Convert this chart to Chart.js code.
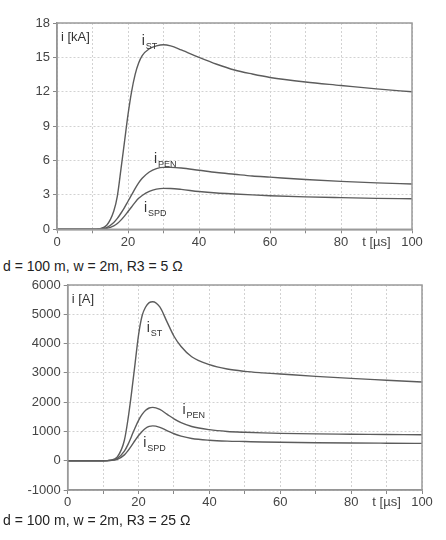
<!DOCTYPE html>
<html>
<head>
<meta charset="utf-8">
<script src="https://cdn.jsdelivr.net/npm/chart.js@4/dist/chart.umd.min.js"></script>
<style>
  body { margin: 0; background: #fff; width: 446px; height: 540px; position: relative; overflow: hidden; }
  .box { position: absolute; left: 0; width: 446px; }
  .cap { position: absolute; left: 3px; font: 14px "Liberation Sans", Arial, sans-serif; color: #222; line-height: 16px; }
</style>
</head>
<body>
<div class="box" style="top:0;height:256px"><canvas id="top"></canvas></div>
<div class="cap" style="top:258px">d = 100 m, w = 2m, R3 = 5 Ω</div>
<div class="box" style="top:270px;height:245px"><canvas id="bottom"></canvas></div>
<div class="cap" style="top:512px">d = 100 m, w = 2m, R3 = 25 Ω</div>
<script>
// time axis (µs) shared by both plots
const times = [0, 10, 12, 14, 16, 17, 18, 19, 20, 21, 22, 23, 24, 26, 28, 30, 32, 35, 40, 45, 50, 55, 60, 70, 80, 90, 100];

// R3 = 5 ohm, currents in kA
const st5  = [0, 0, 0.05, 0.35, 1.6, 2.9, 5.2, 7.6, 10.0, 12.0, 13.5, 14.5, 15.15, 15.75, 16.0, 16.1, 16.0, 15.65, 15.0, 14.4, 13.9, 13.55, 13.25, 12.85, 12.55, 12.25, 12.0];
const pen5 = [0, 0, 0.03, 0.15, 0.6, 0.95, 1.4, 1.9, 2.45, 3.0, 3.55, 4.05, 4.45, 5.0, 5.3, 5.4, 5.4, 5.35, 5.15, 4.95, 4.8, 4.65, 4.55, 4.35, 4.18, 4.05, 3.95];
const spd5 = [0, 0, 0.02, 0.08, 0.3, 0.5, 0.8, 1.15, 1.55, 1.95, 2.35, 2.7, 2.95, 3.3, 3.5, 3.57, 3.56, 3.48, 3.3, 3.17, 3.08, 3.0, 2.93, 2.83, 2.76, 2.7, 2.66];

// R3 = 25 ohm, currents in A
const st25  = [0, 0, 20, 130, 700, 1400, 2300, 3300, 4300, 4950, 5250, 5400, 5430, 5250, 4750, 4250, 3900, 3550, 3280, 3130, 3050, 3000, 2960, 2880, 2810, 2750, 2690];
const pen25 = [0, 0, 10, 80, 330, 550, 830, 1120, 1380, 1580, 1720, 1800, 1820, 1750, 1590, 1430, 1300, 1170, 1060, 1000, 970, 950, 935, 915, 905, 895, 885];
const spd25 = [0, 0, 8, 45, 200, 340, 510, 690, 860, 1000, 1110, 1170, 1190, 1140, 1030, 920, 840, 760, 700, 670, 655, 640, 630, 615, 605, 598, 592];

const yTicks5 = [0, 3, 6, 9, 12, 15, 18];
const yTicks25 = [-1000, 0, 1000, 2000, 3000, 4000, 5000, 6000];
const xLabel = 't [µs]';

const FONT = '"Liberation Sans", Arial, sans-serif';
const LINE = '#5c5c5c';

function pts(vals) {
  return times.map((t, i) => ({ x: t, y: vals[i] }));
}

function line(vals) {
  return {
    data: pts(vals),
    borderColor: LINE,
    borderWidth: 1.4,
    pointRadius: 0,
    cubicInterpolationMode: 'monotone',
    fill: false
  };
}

// frame around the plot area + curve / axis labels
const decor = {
  id: 'decor',
  afterDatasetsDraw(chart, args, opts) {
    const { ctx, chartArea: a, scales } = chart;
    ctx.save();
    ctx.strokeStyle = '#9a9a9a';
    ctx.lineWidth = 1.5;
    ctx.strokeRect(a.left, a.top, a.right - a.left, a.bottom - a.top);
    ctx.fillStyle = '#333';
    ctx.textBaseline = 'alphabetic';
    ctx.font = '13px ' + FONT;
    ctx.fillText(opts.unit, a.left + 4, a.top + 18);
    opts.names.forEach(n => {
      const px = scales.x.getPixelForValue(n.x);
      const py = scales.y.getPixelForValue(n.y);
      ctx.font = '14px ' + FONT;
      ctx.fillText('i', px, py);
      ctx.font = '9px ' + FONT;
      ctx.fillText(n.sub, px + 4, py + 4);
    });
    ctx.restore();
  }
};

function makeChart(id, series, yMin, yMax, yTicks, axisW, axisH, pad, unit, names) {
  return new Chart(document.getElementById(id), {
    type: 'line',
    data: { datasets: series.map(line) },
    plugins: [decor],
    options: {
      responsive: true,
      maintainAspectRatio: false,
      animation: false,
      layout: { padding: pad },
      plugins: {
        legend: { display: false },
        tooltip: { enabled: false },
        decor: { unit: unit, names: names }
      },
      scales: {
        x: {
          type: 'linear',
          min: 0, max: 100,
          afterFit: s => { s.height = axisH; },
          ticks: {
            stepSize: 10, autoSkip: false, maxRotation: 0, padding: 1,
            color: '#444', font: { family: FONT, size: 13 },
            callback: v => v === 90 ? xLabel : (v % 20 === 0 ? String(v) : '')
          },
          grid: { color: '#d2d2d2', tickColor: '#888', tickLength: 4 },
          border: { color: '#888', width: 1.5, dash: [2, 2] }
        },
        y: {
          min: yMin, max: yMax,
          afterFit: s => { s.width = axisW; },
          afterBuildTicks: s => { s.ticks = yTicks.map(v => ({ value: v })); },
          ticks: {
            padding: 3, autoSkip: false,
            color: '#444', font: { family: FONT, size: 13 },
            callback: v => String(v)
          },
          grid: { color: '#d2d2d2', tickColor: '#888', tickLength: 4 },
          border: { color: '#888', width: 1.5, dash: [2, 2] }
        }
      }
    }
  });
}

makeChart('top', [st5, pen5, spd5], 0, 18, yTicks5, 57, 26.7,
  { top: 23, right: 34, left: 0, bottom: 0 }, 'i [kA]',
  [{ sub: 'ST', x: 23.9, y: 16.1 }, { sub: 'PEN', x: 27.3, y: 5.8 }, { sub: 'SPD', x: 24.5, y: 1.5 }]);

makeChart('bottom', [st25, pen25, spd25], -1000, 6000, yTicks25, 67.7, 25,
  { top: 15, right: 24, left: 0, bottom: 0 }, 'i [A]',
  [{ sub: 'ST', x: 22.3, y: 4390 }, { sub: 'PEN', x: 32.4, y: 1600 }, { sub: 'SPD', x: 21.3, y: 460 }]);
</script>
</body>
</html>
